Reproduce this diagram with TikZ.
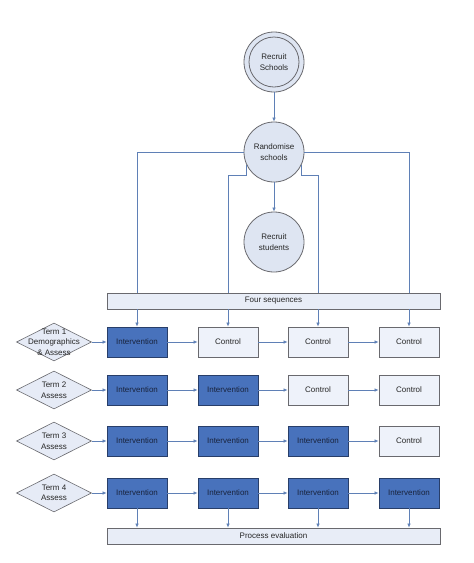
\documentclass[tikz,border=0pt]{standalone}
\usepackage{fontspec}
\setmainfont{Liberation Sans}
\usetikzlibrary{arrows.meta,shapes.geometric}
\definecolor{intfill}{RGB}{72,114,188}
\definecolor{intdraw}{RGB}{40,62,105}
\definecolor{inttext}{RGB}{25,35,60}
\definecolor{ctlfill}{RGB}{238,242,250}
\definecolor{ctldraw}{RGB}{105,105,110}
\definecolor{circfill}{RGB}{222,229,242}
\definecolor{linecol}{RGB}{95,128,182}
\definecolor{barfill}{RGB}{232,237,247}
\definecolor{diafill}{RGB}{230,235,246}
\tikzset{
  every node/.style={font=\fontsize{8}{10.5}\selectfont, text=black!85},
  circ/.style={circle, draw=ctldraw, fill=circfill, minimum size=60pt, inner sep=0pt, align=center, line width=0.8pt},
  intbox/.style={rectangle, draw=intdraw, fill=intfill, minimum width=60pt, minimum height=30pt, inner sep=0pt, text=inttext, line width=0.8pt},
  ctlbox/.style={rectangle, draw=ctldraw, fill=ctlfill, minimum width=60pt, minimum height=30pt, inner sep=0pt, line width=0.8pt},
  bar/.style={rectangle, draw=ctldraw, fill=barfill, minimum width=333pt, minimum height=16pt, inner sep=0pt, line width=0.8pt},
  term/.style={diamond, draw=ctldraw, fill=diafill, minimum width=75pt, minimum height=38pt, inner sep=0pt, aspect=2, line width=0.6pt},
  termtext/.style={align=center, inner sep=0pt},
  conn/.style={draw=linecol, line width=0.7pt},
  arr/.style={conn, -{Latex[length=4pt,width=3.6pt]}},
}
\begin{document}
\begin{tikzpicture}[x=1pt,y=-1pt]
\useasboundingbox[fill=white] (0,0) rectangle (474,563);
% circles
\node[circ] (rs) at (274,62) {Recruit\\Schools};
\draw[ctldraw, line width=0.8pt] (rs.center) circle (25pt);
\node[circ] (rand) at (274,152) {Randomise\\schools};
\node[circ] (rstud) at (274,242) {Recruit\\students};
\draw[arr] (rs) -- (rand);
\draw[arr] (rand) -- (rstud);
% bars
\node[bar] (seq) at (273.5,301) {Four sequences};
\node[bar] (proc) at (273.5,536) {Process evaluation};
% row 1
\node[term] (t1) at (54,342) {};
\node[termtext] (l1) at (t1.center) {Term 1\\Demographics\\\& Assess};
\node[intbox] (b11) at (137,342) {Intervention};
\node[ctlbox] (b12) at (228,342) {Control};
\node[ctlbox] (b13) at (318,342) {Control};
\node[ctlbox] (b14) at (409,342) {Control};
% row 2
\node[term] (t2) at (54,390) {};
\node[termtext] (l2) at (t2.center) {Term 2\\Assess};
\node[intbox] (b21) at (137,390) {Intervention};
\node[intbox] (b22) at (228,390) {Intervention};
\node[ctlbox] (b23) at (318,390) {Control};
\node[ctlbox] (b24) at (409,390) {Control};
% row 3
\node[term] (t3) at (54,441) {};
\node[termtext] (l3) at (t3.center) {Term 3\\Assess};
\node[intbox] (b31) at (137,441) {Intervention};
\node[intbox] (b32) at (228,441) {Intervention};
\node[intbox] (b33) at (318,441) {Intervention};
\node[ctlbox] (b34) at (409,441) {Control};
% row 4
\node[term] (t4) at (54,493) {};
\node[termtext] (l4) at (t4.center) {Term 4\\Assess};
\node[intbox] (b41) at (137,493) {Intervention};
\node[intbox] (b42) at (228,493) {Intervention};
\node[intbox] (b43) at (318,493) {Intervention};
\node[intbox] (b44) at (409,493) {Intervention};
% randomise to four sequences
\draw[conn] (rand.west) -| (seq.north -| b11);
\draw[conn] (rand.east) -| (seq.north -| b14);
\draw[conn] (rand.-154) -- ++(0,10) coordinate (kl) -| (seq.north -| b12);
\draw[conn] (rand.-26) -- ++(0,10) coordinate (kr) -| (seq.north -| b13);
% sequences to row 1, row 4 to process evaluation
\foreach \j in {1,2,3,4}{
  \draw[arr] (seq.south -| b1\j) -- (b1\j.north);
  \draw[arr] (b4\j.south) -- (proc.north -| b4\j);
}
% horizontal arrows
\foreach \r in {1,2,3,4}{
  \draw[arr] (t\r.east) -- (b\r1.west);
  \draw[arr] (b\r1.east) -- (b\r2.west);
  \draw[arr] (b\r2.east) -- (b\r3.west);
  \draw[arr] (b\r3.east) -- (b\r4.west);
}
\end{tikzpicture}
\end{document}
